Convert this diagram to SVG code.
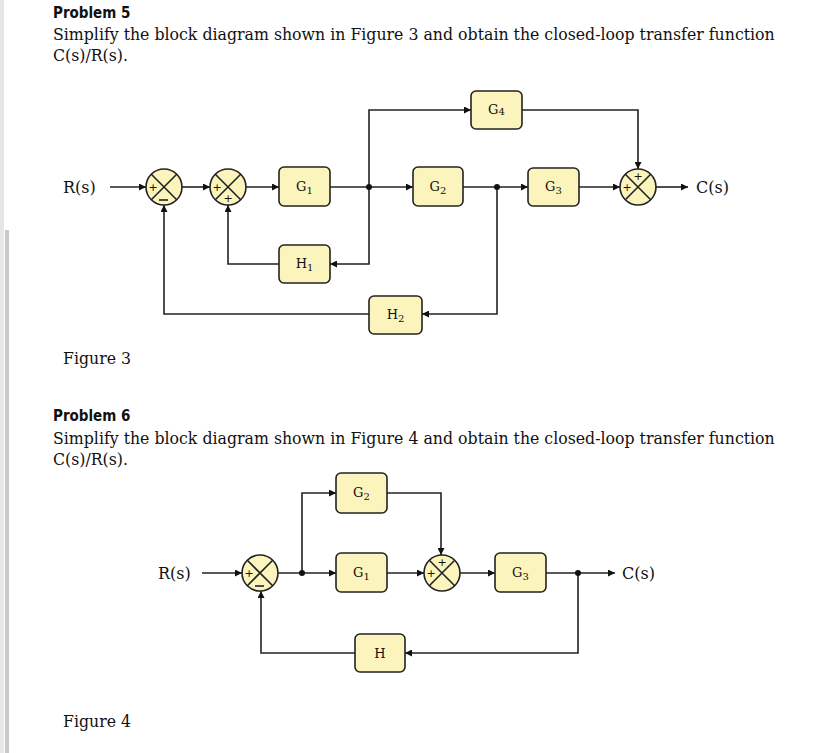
<svg xmlns="http://www.w3.org/2000/svg" width="828" height="753" viewBox="0 0 828 753">
<style>
.h{font-family:"DejaVu Sans Condensed","DejaVu Sans",sans-serif;font-size:15px;font-weight:bold;fill:#111}
.t{font-family:"DejaVu Serif","Liberation Serif",serif;font-size:15.75px;fill:#111}
.s{font-family:"DejaVu Serif",serif;font-size:16px;fill:#111}
.b rect{fill:#fbf5bd;stroke:#222;stroke-width:1.6}
.b text{font-family:"DejaVu Serif",serif;font-size:13px;fill:#111;text-anchor:middle}
.b tspan{font-size:10px}
.sum circle{fill:#fbf5bd;stroke:#222;stroke-width:1.6}
.sum path{stroke:#222;stroke-width:1.6}
.sum text{font-family:"DejaVu Sans",sans-serif;font-size:11px;fill:#111;text-anchor:middle}
.c path{fill:none;stroke:#222;stroke-width:1.6}
.dot{fill:#111}
</style>
<defs><marker id="a" viewBox="0 0 10 10" refX="10" refY="5" markerWidth="7" markerHeight="7" markerUnits="userSpaceOnUse" orient="auto"><path d="M0,0L10,5L0,10z" fill="#111"/></marker></defs>
<rect width="828" height="753" fill="#fff"/>
<rect x="0" y="0" width="4" height="753" fill="#e6e6e6"/>
<rect x="5" y="230" width="4" height="523" fill="#c8c8c8"/>
<text class="h" x="53" y="18">Problem 5</text>
<text class="t" x="53" y="40">Simplify the block diagram shown in Figure 3 and obtain the closed-loop transfer function</text>
<text class="t" x="53" y="61">C(s)/R(s).</text>
<text class="t" x="63" y="364">Figure 3</text>
<text class="h" x="53" y="421">Problem 6</text>
<text class="t" x="53" y="444">Simplify the block diagram shown in Figure 4 and obtain the closed-loop transfer function</text>
<text class="t" x="53" y="465">C(s)/R(s).</text>
<text class="t" x="63" y="727">Figure 4</text>
<text class="s" x="63" y="193">R(s)</text>
<text class="s" x="696" y="193">C(s)</text>
<text class="s" x="158" y="579">R(s)</text>
<text class="s" x="622" y="579">C(s)</text>
<g class="c" id="connectors">
<path d="M110,187H146" marker-end="url(#a)"/>
<path d="M182,187H210" marker-end="url(#a)"/>
<path d="M246,187H279" marker-end="url(#a)"/>
<path d="M330,187H413" marker-end="url(#a)"/>
<path d="M369,187V110H471" marker-end="url(#a)"/>
<path d="M369,187V264H330" marker-end="url(#a)"/>
<path d="M279,264H228V205" marker-end="url(#a)"/>
<path d="M463,187H528" marker-end="url(#a)"/>
<path d="M497,187V314H422" marker-end="url(#a)"/>
<path d="M369,314H164V205" marker-end="url(#a)"/>
<path d="M522,110H638V169" marker-end="url(#a)"/>
<path d="M579,187H620" marker-end="url(#a)"/>
<path d="M656,187H688" marker-end="url(#a)"/>
<path d="M202,573H242" marker-end="url(#a)"/>
<path d="M278,573H336" marker-end="url(#a)"/>
<path d="M302,573V493H336" marker-end="url(#a)"/>
<path d="M387,493H441V555" marker-end="url(#a)"/>
<path d="M387,573H424" marker-end="url(#a)"/>
<path d="M460,573H495" marker-end="url(#a)"/>
<path d="M546,573H615" marker-end="url(#a)"/>
<path d="M578,573V653H405" marker-end="url(#a)"/>
<path d="M355,653H261V591" marker-end="url(#a)"/>
<circle class="dot" cx="369" cy="187" r="3"/>
<circle class="dot" cx="497" cy="187" r="3"/>
<circle class="dot" cx="302" cy="573" r="3"/>
<circle class="dot" cx="578" cy="573" r="3"/>
</g>
<g class="sum" id="s1"><circle cx="164" cy="187" r="18"/><path d="M151.3,174.3L176.7,199.7M176.7,174.3L151.3,199.7"/><text x="153" y="191">+</text><path d="M159,200H168" stroke-width="2.5"/></g>
<g class="sum" id="s2"><circle cx="228" cy="187" r="18"/><path d="M215.3,174.3L240.7,199.7M240.7,174.3L215.3,199.7"/><text x="217" y="191">+</text><text x="228" y="202">+</text></g>
<g class="sum" id="s3"><circle cx="638" cy="187" r="18"/><path d="M625.3,174.3L650.7,199.7M650.7,174.3L625.3,199.7"/><text x="638" y="180">+</text><text x="627" y="191">+</text></g>
<g class="b" id="G1"><rect x="279" y="167" width="51" height="39" rx="5"/><text x="304.5" y="191">G<tspan dy="3">1</tspan></text></g>
<g class="b" id="G2"><rect x="413" y="167" width="50" height="39" rx="5"/><text x="438" y="191">G<tspan dy="3">2</tspan></text></g>
<g class="b" id="G3"><rect x="528" y="168" width="51" height="38" rx="5"/><text x="553.5" y="191">G<tspan dy="3">3</tspan></text></g>
<g class="b" id="G4"><rect x="471" y="91" width="51" height="38" rx="5"/><text x="496.5" y="114">G<tspan dy="1">4</tspan></text></g>
<g class="b" id="H1"><rect x="279" y="245" width="51" height="38" rx="5"/><text x="304.5" y="268">H<tspan dy="3">1</tspan></text></g>
<g class="b" id="H2"><rect x="369" y="296" width="53" height="38" rx="5"/><text x="395.5" y="319">H<tspan dy="3">2</tspan></text></g>
<g class="sum" id="p6s1"><circle cx="260" cy="573" r="18"/><path d="M247.3,560.3L272.7,585.7M272.7,560.3L247.3,585.7"/><text x="249" y="577">+</text><path d="M255,586H264" stroke-width="2.5"/></g>
<g class="sum" id="p6s2"><circle cx="442" cy="573" r="18"/><path d="M429.3,560.3L454.7,585.7M454.7,560.3L429.3,585.7"/><text x="442" y="566">+</text><text x="431" y="577">+</text></g>
<g class="b" id="p6G2"><rect x="336" y="473" width="51" height="40" rx="5"/><text x="361.5" y="497">G<tspan dy="3">2</tspan></text></g>
<g class="b" id="p6G1"><rect x="336" y="553" width="51" height="39" rx="5"/><text x="361.5" y="577">G<tspan dy="3">1</tspan></text></g>
<g class="b" id="p6G3"><rect x="495" y="553" width="51" height="39" rx="5"/><text x="520.5" y="577">G<tspan dy="3">3</tspan></text></g>
<g class="b" id="p6H"><rect x="355" y="634" width="50" height="38" rx="5"/><text x="380" y="658">H</text></g>
</svg>
